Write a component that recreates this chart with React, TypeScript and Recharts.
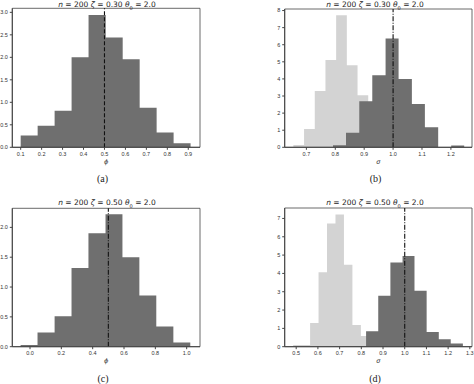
import React from "react"
import { ComposedChart, Area, XAxis, YAxis, ReferenceLine, ReferenceArea } from "recharts"

// panel (a): phi, zeta = 0.30
const phiEdgesA = [0.1, 0.181, 0.262, 0.343, 0.424, 0.506, 0.587, 0.668, 0.749, 0.83, 0.911]
const phiHeightsA = [0.26, 0.48, 0.81, 2.0, 2.94, 2.44, 1.96, 0.88, 0.33, 0.09]

// panel (b): sigma, zeta = 0.30
const sigLightEdgesB = [0.655, 0.692, 0.729, 0.766, 0.803, 0.84, 0.877, 0.914, 0.951, 0.988, 1.025]
const sigLightHeightsB = [0.14, 1.07, 3.29, 5.1, 7.72, 4.8, 3.05, 0.6, 0.2, 0.05]
const sigDarkEdgesB = [0.792, 0.837, 0.883, 0.928, 0.974, 1.019, 1.065, 1.11, 1.156, 1.201, 1.246]
const sigDarkHeightsB = [0.12, 0.85, 2.7, 4.22, 6.36, 3.99, 2.53, 1.17, 0.02, 0.1]

// panel (c): phi, zeta = 0.50
const phiEdgesC = [-0.06, 0.048, 0.157, 0.265, 0.373, 0.482, 0.59, 0.698, 0.806, 0.915, 1.023]
const phiHeightsC = [0.03, 0.24, 0.51, 1.32, 1.9, 2.22, 1.5, 0.86, 0.34, 0.07]

// panel (d): sigma, zeta = 0.50
const sigLightEdgesD = [0.486, 0.525, 0.564, 0.603, 0.642, 0.681, 0.72, 0.759, 0.798, 0.837, 0.876]
const sigLightHeightsD = [0.09, 0.09, 1.29, 4.07, 6.73, 7.22, 4.47, 1.18, 0.58, 0.05]
const sigDarkEdgesD = [0.711, 0.767, 0.822, 0.878, 0.934, 0.99, 1.045, 1.101, 1.157, 1.212, 1.268]
const sigDarkHeightsD = [0.02, 0.02, 0.85, 2.78, 4.6, 4.95, 3.05, 0.8, 0.4, 0.18]

const ticksPhiA = [0.1, 0.2, 0.3, 0.4, 0.5, 0.6, 0.7, 0.8, 0.9]
const ticksSigB = [0.7, 0.8, 0.9, 1.0, 1.1, 1.2]
const ticksPhiC = [0.0, 0.2, 0.4, 0.6, 0.8, 1.0]
const ticksSigD = [0.5, 0.6, 0.7, 0.8, 0.9, 1.0, 1.1, 1.2, 1.3]
const yTicksA = [0, 0.5, 1.0, 1.5, 2.0, 2.5, 3.0]
const yTicksB = [0, 1, 2, 3, 4, 5, 6, 7, 8]
const yTicksC = [0, 0.5, 1.0, 1.5, 2.0]
const yTicksD = [0, 1, 2, 3, 4, 5, 6, 7]

const DARK = "#6f6f6f"
const LIGHT = "#d3d3d3"
const tickStyle = { fontSize: 5.5, fontFamily: "Liberation Sans", fill: "#333" }

function steps(edges: number[], heights: number[]) {
  return edges.map((x, i) => ({ x, y: heights[Math.min(i, heights.length - 1)] }))
}

type PanelProps = {
  box: { left: number; top: number; width: number; height: number }
  plot: { left: number; top: number; right: number; bottom: number }
  xDomain: [number, number]
  yDomain: [number, number]
  xTicks: number[]
  yTicks: number[]
  yDigits: number
  dark: { x: number; y: number }[]
  light?: { x: number; y: number }[]
  refX: number
  dash: string
  xLabel: string
}

function Panel(p: PanelProps) {
  const { box, plot } = p
  return (
    <div style={{ position: "absolute", left: box.left, top: box.top }}>
      <ComposedChart
        width={box.width}
        height={box.height}
        margin={{ top: plot.top - box.top, right: box.left + box.width - plot.right, bottom: 0, left: 0 }}
      >
        <XAxis
          dataKey="x"
          type="number"
          domain={p.xDomain}
          allowDataOverflow
          ticks={p.xTicks}
          tickFormatter={(v: number) => v.toFixed(1)}
          tick={tickStyle}
          tickSize={2.5}
          stroke="#444"
          height={box.top + box.height - plot.bottom}
          label={{ value: p.xLabel, position: "insideTop", offset: 12, fontSize: 6.5, fill: "#333", fontFamily: "DejaVu Sans", fontStyle: "italic" }}
        />
        <YAxis
          type="number"
          domain={p.yDomain}
          allowDataOverflow
          ticks={p.yTicks}
          tickFormatter={(v: number) => v.toFixed(p.yDigits)}
          tick={tickStyle}
          tickSize={2.5}
          stroke="#444"
          width={plot.left - box.left}
        />
        {p.light && (
          <Area
            data={p.light}
            dataKey="y"
            type="stepAfter"
            fill={LIGHT}
            fillOpacity={1}
            stroke="none"
            isAnimationActive={false}
          />
        )}
        <Area
          data={p.dark}
          dataKey="y"
          type="stepAfter"
          fill={DARK}
          fillOpacity={1}
          stroke="none"
          isAnimationActive={false}
        />
        <ReferenceLine x={p.refX} stroke="#111" strokeWidth={1.1} strokeDasharray={p.dash} />
        <ReferenceArea
          x1={p.xDomain[0]}
          x2={p.xDomain[1]}
          y1={p.yDomain[0]}
          y2={p.yDomain[1]}
          fill="none"
          stroke="#444"
          strokeWidth={0.8}
        />
      </ComposedChart>
    </div>
  )
}

function Title({ x, y, zeta }: { x: number; y: number; zeta: string }) {
  return (
    <div
      style={{
        position: "absolute",
        left: x - 60,
        top: y - 5,
        width: 120,
        textAlign: "center",
        fontFamily: "DejaVu Sans",
        fontSize: 7.5,
        color: "#222",
        whiteSpace: "nowrap",
        lineHeight: "10px",
      }}
    >
      <i>n</i> = 200 <i>ζ</i> = {zeta} <i>θ</i>
      <sub style={{ fontSize: 5, lineHeight: 0 }}>0</sub> = 2.0
    </div>
  )
}

function Caption({ x, y, text }: { x: number; y: number; text: string }) {
  return (
    <div
      style={{
        position: "absolute",
        left: x - 20,
        top: y - 7,
        width: 40,
        textAlign: "center",
        fontFamily: "Liberation Serif",
        fontSize: 10,
        lineHeight: "14px",
        color: "#222",
      }}
    >
      {text}
    </div>
  )
}

export default function App() {
  return (
    <div style={{ position: "absolute", left: 0, top: 0, width: 474, height: 384, background: "#fff", overflow: "hidden" }}>
      <Panel
        box={{ left: 0, top: 0, width: 237, height: 170 }}
        plot={{ left: 12.3, top: 8.3, right: 200, bottom: 147.3 }}
        xDomain={[0.06, 0.956]}
        yDomain={[0, 3.09]}
        xTicks={ticksPhiA}
        yTicks={yTicksA}
        yDigits={1}
        dark={steps(phiEdgesA, phiHeightsA)}
        refX={0.5}
        dash="4 2"
        xLabel="ϕ"
      />
      <Panel
        box={{ left: 237, top: 0, width: 237, height: 170 }}
        plot={{ left: 284.7, top: 9, right: 472, bottom: 147.3 }}
        xDomain={[0.625, 1.273]}
        yDomain={[0, 8.09]}
        xTicks={ticksSigB}
        yTicks={yTicksB}
        yDigits={0}
        light={steps(sigLightEdgesB, sigLightHeightsB)}
        dark={steps(sigDarkEdgesB, sigDarkHeightsB)}
        refX={1.0}
        dash="5 1.5 1 1.5"
        xLabel="σ"
      />
      <Panel
        box={{ left: 0, top: 185, width: 237, height: 185 }}
        plot={{ left: 12.3, top: 208.3, right: 200, bottom: 346.7 }}
        xDomain={[-0.113, 1.085]}
        yDomain={[0, 2.32]}
        xTicks={ticksPhiC}
        yTicks={yTicksC}
        yDigits={1}
        dark={steps(phiEdgesC, phiHeightsC)}
        refX={0.5}
        dash="5 1.5 1 1.5"
        xLabel="ϕ"
      />
      <Panel
        box={{ left: 237, top: 185, width: 237, height: 185 }}
        plot={{ left: 284.7, top: 208, right: 472, bottom: 346.7 }}
        xDomain={[0.447, 1.31]}
        yDomain={[0, 7.57]}
        xTicks={ticksSigD}
        yTicks={yTicksD}
        yDigits={0}
        light={steps(sigLightEdgesD, sigLightHeightsD)}
        dark={steps(sigDarkEdgesD, sigDarkHeightsD)}
        refX={1.0}
        dash="5 1.5 1 1.5"
        xLabel="σ"
      />
      <Title x={107} y={4.5} zeta="0.30" />
      <Title x={375} y={4.5} zeta="0.30" />
      <Title x={107} y={202.7} zeta="0.50" />
      <Title x={375} y={202.7} zeta="0.50" />
      <Caption x={102.5} y={179} text="(a)" />
      <Caption x={375.5} y={179} text="(b)" />
      <Caption x={103} y={379} text="(c)" />
      <Caption x={375} y={379} text="(d)" />
    </div>
  )
}
